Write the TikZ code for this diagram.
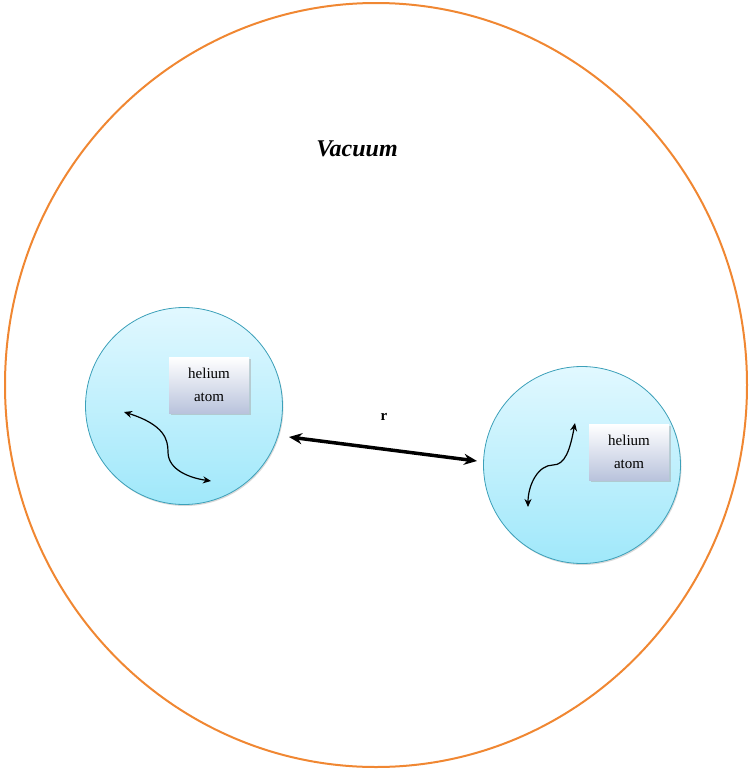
\documentclass[tikz,border=0pt]{standalone}
\usepackage{fontspec}
\setmainfont{Liberation Serif}
\usetikzlibrary{arrows.meta,shadows,shapes.geometric}
\definecolor{vorange}{RGB}{240,135,50}
\definecolor{atomedge}{RGB}{60,160,185}
\definecolor{atomtop}{RGB}{225,248,255}
\definecolor{atombot}{RGB}{160,232,250}
\definecolor{boxbot}{RGB}{185,195,220}
\tikzset{
  atom/.style={circle, draw=atomedge, line width=0.8pt, top color=atomtop, bottom color=atombot, minimum size=197pt, inner sep=0pt, drop shadow={shadow xshift=1pt, shadow yshift=-1.5pt, fill=gray!60}},
  lbl/.style={rectangle, top color=white, bottom color=boxbot, minimum width=80pt, minimum height=56pt, align=center, font=\fontsize{15}{23}\selectfont, drop shadow={shadow xshift=2pt, shadow yshift=-2pt, fill=gray!70}},
  wave/.style={line width=1.2pt, {Stealth[length=8pt,width=7pt]}-{Stealth[length=8pt,width=7pt]}},
}
\begin{document}
\begin{tikzpicture}[x=1pt,y=-1pt]
\useasboundingbox (0,0) rectangle (750,769);
\node[ellipse, draw=vorange, line width=2pt, minimum width=742pt, minimum height=764pt, inner sep=0pt] (vac) at (376,385) {};
\node[font=\bfseries\itshape\fontsize{24}{28}\selectfont] (vt) at (357,149) {Vacuum};
\node[atom] (a1) at (184,406) {};
\node[atom] (a2) at (582,465) {};
\node[lbl] (b1) at (209,385) {helium\\atom};
\node[lbl] (b2) at (629,452) {helium\\atom};
\coordinate (w1s) at (124,412); \coordinate (w1e) at (211,481);
\draw[wave] (w1s) .. controls (165,425) and (168,440) .. (168,452) .. controls (168,470) and (190,478) .. (w1e);
\coordinate (w2s) at (575,423); \coordinate (w2e) at (528,507);
\draw[wave] (w2s) .. controls (570,450) and (565,465) .. (553,465) .. controls (538,465) and (528,485) .. (w2e);
\coordinate (ms) at (289,437); \coordinate (me) at (477,461);
\draw[line width=3.5pt, {Stealth[length=13pt,width=11pt]}-{Stealth[length=13pt,width=11pt]}] (ms) -- (me);
\node[font=\bfseries\fontsize{15}{18}\selectfont] (rl) at (384,417) {r};
\end{tikzpicture}
\end{document}
